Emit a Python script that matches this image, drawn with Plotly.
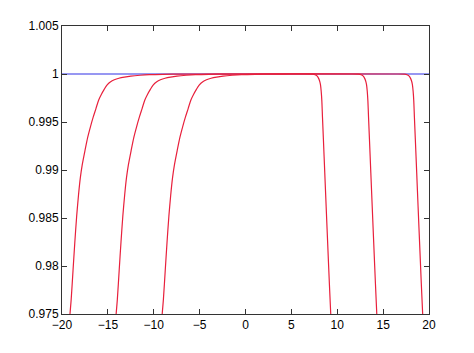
import plotly.graph_objects as go

# Blue reference line
ref_x = [-20, 20]
ref_y = [1.0, 1.0]

# Red curves: rising part then falling part
rise_y = [0.975, 0.9765, 0.9795, 0.9825, 0.9852, 0.9874, 0.9892, 0.9905, 0.992, 0.9934, 0.9945,
          0.9955, 0.9964, 0.9973, 0.9979, 0.9984, 0.99885, 0.9992, 0.9994, 0.99956, 0.99968,
          0.99978, 0.99987, 0.99993, 0.99997, 0.99999, 1.0]
fall_y = [1.0, 0.99998, 0.99992, 0.9998, 0.9996, 0.9993, 0.9989, 0.9982, 0.9972, 0.9955,
          0.9932, 0.9897, 0.9862, 0.9816, 0.9782, 0.975]

a_rise_x = [-19.13, -19.0, -18.8, -18.6, -18.4, -18.2, -18.0, -17.8, -17.5, -17.2, -16.9, -16.6,
            -16.3, -16.0, -15.7, -15.4, -15.1, -14.7, -14.3, -13.8, -13.2, -12.5, -11.5, -10.5,
            -9.0, -7.0, -5.0]
a_fall_x = [16.31, 17.31, 17.61, 17.81, 17.96, 18.09, 18.19, 18.27, 18.34, 18.41, 18.51, 18.66,
            18.81, 19.01, 19.16, 19.31]

b_rise_x = [-14.1, -13.97, -13.77, -13.57, -13.37, -13.17, -12.97, -12.77, -12.47, -12.17, -11.87,
            -11.57, -11.27, -10.97, -10.67, -10.37, -10.07, -9.67, -9.27, -8.77, -8.17, -7.47,
            -6.47, -5.47, -3.97, -1.97, 0.03]
b_fall_x = [11.31, 12.31, 12.61, 12.81, 12.96, 13.09, 13.19, 13.27, 13.34, 13.41, 13.51, 13.66,
            13.81, 14.01, 14.16, 14.31]

c_rise_x = [-9.08, -8.95, -8.75, -8.55, -8.35, -8.15, -7.95, -7.75, -7.45, -7.15, -6.85, -6.55,
            -6.25, -5.95, -5.65, -5.35, -5.05, -4.65, -4.25, -3.75, -3.15, -2.45, -1.45, -0.45,
            1.05, 3.05, 5.05]
c_fall_x = [6.29, 7.29, 7.59, 7.79, 7.94, 8.07, 8.17, 8.25, 8.32, 8.39, 8.49, 8.64, 8.79, 8.99,
            9.14, 9.29]

x_ticks = [-20, -15, -10, -5, 0, 5, 10, 15, 20]
y_ticks = [0.975, 0.98, 0.985, 0.99, 0.995, 1.0, 1.005]
y_tick_text = ["0.975", "0.98", "0.985", "0.99", "0.995", "1", "1.005"]

RED = "#e8203c"
BLUE = "#3030e6"

fig = go.Figure()
fig.add_trace(go.Scatter(x=ref_x, y=ref_y, mode="lines", line=dict(color=BLUE, width=1.2), showlegend=False))
for rx, fx in [(a_rise_x, a_fall_x), (b_rise_x, b_fall_x), (c_rise_x, c_fall_x)]:
    fig.add_trace(go.Scatter(x=rx + fx, y=rise_y + fall_y, mode="lines",
                             line=dict(color=RED, width=1.2, shape="spline", smoothing=0.8),
                             showlegend=False))

axis_common = dict(showgrid=False, zeroline=False, showline=True, linecolor="#333333", linewidth=1,
                   mirror="ticks", ticks="inside", ticklen=5, tickcolor="#333333",
                   tickfont=dict(family="Liberation Sans, Arial, sans-serif", size=12, color="black"))
fig.update_xaxes(range=[-20, 20], tickvals=x_ticks, **axis_common)
fig.update_yaxes(range=[0.975, 1.005], tickvals=y_ticks, ticktext=y_tick_text, **axis_common)
fig.update_layout(width=474, height=353, margin=dict(l=62, r=45, t=26, b=39),
                  plot_bgcolor="white", paper_bgcolor="white")
fig.write_html("out.html")
